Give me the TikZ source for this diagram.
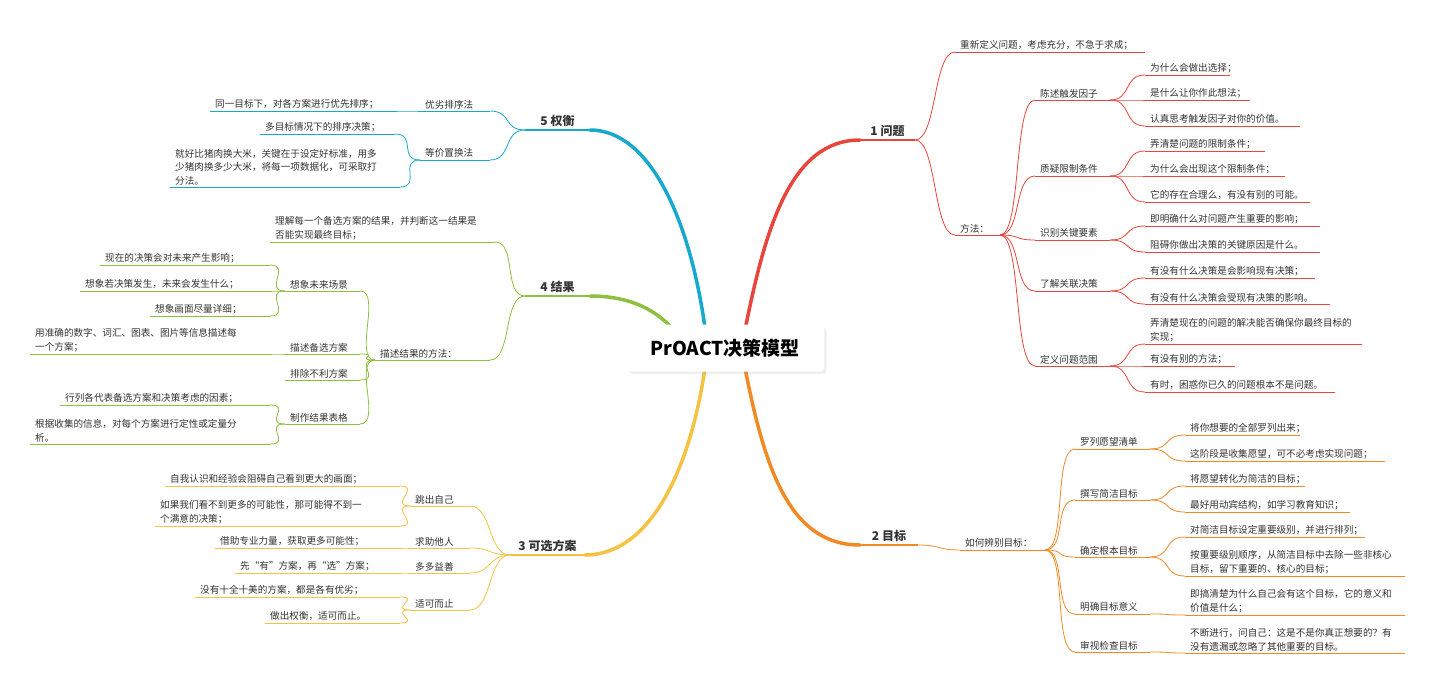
\documentclass[tikz,border=0pt]{standalone}
\usepackage{fontspec}
\setmainfont{Noto Sans CJK SC}
\usetikzlibrary{shadows}
\definecolor{c1}{HTML}{E8453C}
\definecolor{c2}{HTML}{F08A24}
\definecolor{c3}{HTML}{F5C244}
\definecolor{c4}{HTML}{8DC03F}
\definecolor{c5}{HTML}{17A8CE}
\definecolor{tx}{HTML}{333333}
\tikzset{leaf/.style={anchor=south west,inner sep=2pt,xshift=3pt,text=tx,align=left,font=\fontsize{9.6}{13.5}\selectfont},
mainlbl/.style={anchor=south,inner sep=3pt,text=tx,font=\fontsize{12}{14}\selectfont\bfseries},
trunk/.style={line width=3.5pt,line cap=round}}
\newcommand\lf[6]{\coordinate (#2-l) at (#3,#5); \coordinate (#2-r) at (#4,#5);
 \draw[#1,line width=0.8pt] (#2-l) -- (#2-r);
 \node[leaf] (#2) at (#3,#5) {#6};}
\newcommand\mn[6]{\coordinate (#2-l) at (#3,#5); \coordinate (#2-r) at (#4,#5);
 \draw[#1,line width=1.2pt] (#2-l) -- (#2-r);
 \node[mainlbl] (#2) at ({(#3+#4)/2},#5) {#6};}
\newcommand\cn[3]{\draw[#1,line width=0.8pt] (#2-r) .. controls +(22,0) and +(-22,0) .. (#3-l);}
\newcommand\cl[3]{\draw[#1,line width=0.8pt] (#2-l) .. controls +(-22,0) and +(22,0) .. (#3-r);}
\begin{document}
\begin{tikzpicture}[x=1pt,y=-1pt]
\fill[white] (0,0) rectangle (1440,690);
\useasboundingbox (0,0) rectangle (1440,690);
% trunks
\draw[c1,trunk] (745,330) .. controls (765,230) and (790,140) .. (860,140);
\draw[c2,trunk] (745,368) .. controls (765,470) and (790,545) .. (860,545);
\draw[c3,trunk] (705,368) .. controls (690,470) and (650,555) .. (585,555);
\draw[c4,trunk] (680,338) .. controls (660,310) and (630,296) .. (590,296);
\draw[c5,trunk] (705,328) .. controls (690,220) and (650,130) .. (590,130);
\node[fill=white,rounded corners=4pt,minimum width=198pt,minimum height=47pt,drop shadow={opacity=0.12},text=black,font=\fontsize{19}{22}\selectfont\bfseries] (center) at (725,348) {PrOACT决策模型};
% branch 1
\mn{c1}{t1}{860}{915}{140}{1 问题}
\lf{c1}{r0}{955}{1145}{52}{重新定义问题，考虑充分，不急于求成；}
\lf{c1}{r1}{955}{1000}{235}{方法：}
\cn{c1}{t1}{r0}\cn{c1}{t1}{r1}
\lf{c1}{a}{1035}{1110}{100}{陈述触发因子}
\lf{c1}{a1}{1145}{1230}{75}{为什么会做出选择；}
\lf{c1}{a2}{1145}{1250}{100}{是什么让你作此想法；}
\lf{c1}{a3}{1145}{1300}{126}{认真思考触发因子对你的价值。}
\lf{c1}{b}{1035}{1110}{176}{质疑限制条件}
\lf{c1}{b1}{1145}{1265}{151}{弄清楚问题的限制条件；}
\lf{c1}{b2}{1145}{1285}{176}{为什么会出现这个限制条件；}
\lf{c1}{b3}{1145}{1310}{202}{它的存在合理么，有没有别的可能。}
\lf{c1}{c}{1035}{1110}{240}{识别关键要素}
\lf{c1}{cc1}{1145}{1320}{226}{即明确什么对问题产生重要的影响；}
\lf{c1}{cc2}{1145}{1320}{252}{阻碍你做出决策的关键原因是什么。}
\lf{c1}{d}{1035}{1110}{291}{了解关联决策}
\lf{c1}{d1}{1145}{1315}{278}{有没有什么决策是会影响现有决策；}
\lf{c1}{d2}{1145}{1330}{304}{有没有什么决策会受现有决策的影响。}
\lf{c1}{e}{1035}{1110}{366}{定义问题范围}
\lf{c1}{e1}{1145}{1362}{344}{弄清楚现在的问题的解决能否确保你最终目标的\\实现；}
\lf{c1}{e2}{1145}{1235}{366}{有没有别的方法；}
\lf{c1}{e3}{1145}{1335}{392}{有时，困惑你已久的问题根本不是问题。}
\cn{c1}{r1}{a}\cn{c1}{r1}{b}\cn{c1}{r1}{c}\cn{c1}{r1}{d}\cn{c1}{r1}{e}
\cn{c1}{a}{a1}\cn{c1}{a}{a2}\cn{c1}{a}{a3}
\cn{c1}{b}{b1}\cn{c1}{b}{b2}\cn{c1}{b}{b3}
\cn{c1}{c}{cc1}\cn{c1}{c}{cc2}
\cn{c1}{d}{d1}\cn{c1}{d}{d2}
\cn{c1}{e}{e1}\cn{c1}{e}{e2}\cn{c1}{e}{e3}
% branch 2
\mn{c2}{t2}{860}{918}{545}{2 目标}
\lf{c2}{o0}{960}{1045}{550}{如何辨别目标：}
\cn{c2}{t2}{o0}
\lf{c2}{f}{1075}{1150}{449}{罗列愿望清单}
\lf{c2}{f1}{1185}{1300}{435}{将你想要的全部罗列出来；}
\lf{c2}{f2}{1185}{1385}{461}{这阶段是收集愿望，可不必考虑实现问题；}
\lf{c2}{g}{1075}{1150}{500}{撰写简洁目标}
\lf{c2}{g1}{1185}{1305}{486}{将愿望转化为简洁的目标；}
\lf{c2}{g2}{1185}{1350}{512}{最好用动宾结构，如学习教育知识；}
\lf{c2}{h}{1075}{1150}{557}{确定根本目标}
\lf{c2}{h1}{1185}{1365}{537}{对简洁目标设定重要级别，并进行排列；}
\lf{c2}{h2}{1185}{1405}{576}{按重要级别顺序，从简洁目标中去除一些非核心\\目标，留下重要的、核心的目标；}
\lf{c2}{i}{1075}{1150}{614}{明确目标意义}
\lf{c2}{i1}{1185}{1405}{615}{即搞清楚为什么自己会有这个目标，它的意义和\\价值是什么；}
\lf{c2}{j}{1075}{1150}{652}{审视检查目标}
\lf{c2}{j1}{1185}{1405}{653}{不断进行，问自己：这是不是你真正想要的？有\\没有遗漏或忽略了其他重要的目标。}
\cn{c2}{o0}{f}\cn{c2}{o0}{g}\cn{c2}{o0}{h}\cn{c2}{o0}{i}\cn{c2}{o0}{j}
\cn{c2}{f}{f1}\cn{c2}{f}{f2}\cn{c2}{g}{g1}\cn{c2}{g}{g2}
\cn{c2}{h}{h1}\cn{c2}{h}{h2}\cn{c2}{i}{i1}\cn{c2}{j}{j1}
% branch 3
\mn{c3}{t3}{510}{585}{555}{3 可选方案}
\lf{c3}{k}{410}{470}{506}{跳出自己}
\lf{c3}{k1}{165}{400}{486}{自我认识和经验会阻碍自己看到更大的画面；}
\lf{c3}{k2}{155}{400}{526}{如果我们看不到更多的可能性，那可能得不到一\\个满意的决策；}
\lf{c3}{l}{410}{470}{548}{求助他人}
\lf{c3}{l1}{215}{400}{548}{借助专业力量，获取更多可能性；}
\lf{c3}{m}{410}{470}{573}{多多益善}
\lf{c3}{m1}{235}{400}{573}{先“有”方案，再“选”方案；}
\lf{c3}{n}{410}{470}{610}{适可而止}
\lf{c3}{n1}{195}{400}{597}{没有十全十美的方案，都是各有优劣；}
\lf{c3}{n2}{265}{400}{623}{做出权衡，适可而止。}
\cl{c3}{t3}{k}\cl{c3}{t3}{l}\cl{c3}{t3}{m}\cl{c3}{t3}{n}
\cl{c3}{k}{k1}\cl{c3}{k}{k2}\cl{c3}{l}{l1}\cl{c3}{m}{m1}\cl{c3}{n}{n1}\cl{c3}{n}{n2}
% branch 4
\mn{c4}{t4}{525}{590}{296}{4 结果}
\lf{c4}{p0}{270}{495}{242}{理解每一个备选方案的结果，并判断这一结果是\\否能实现最终目标；}
\lf{c4}{p}{375}{490}{360}{描述结果的方法：}
\cl{c4}{t4}{p0}\cl{c4}{t4}{p}
\lf{c4}{q}{285}{360}{291}{想象未来场景}
\lf{c4}{q1}{100}{270}{265}{现在的决策会对未来产生影响；}
\lf{c4}{q2}{80}{270}{291}{想象若决策发生，未来会发生什么；}
\lf{c4}{q3}{150}{270}{316}{想象画面尽量详细；}
\lf{c4}{s}{285}{360}{354}{描述备选方案}
\lf{c4}{s1}{30}{270}{354}{用准确的数字、词汇、图表、图片等信息描述每\\一个方案；}
\lf{c4}{u}{285}{360}{380}{排除不利方案}
\lf{c4}{v}{285}{360}{424}{制作结果表格}
\lf{c4}{v1}{60}{270}{405}{行列各代表备选方案和决策考虑的因素；}
\lf{c4}{v2}{30}{270}{444}{根据收集的信息，对每个方案进行定性或定量分\\析。}
\cl{c4}{p}{q}\cl{c4}{p}{s}\cl{c4}{p}{u}\cl{c4}{p}{v}
\cl{c4}{q}{q1}\cl{c4}{q}{q2}\cl{c4}{q}{q3}\cl{c4}{s}{s1}\cl{c4}{v}{v1}\cl{c4}{v}{v2}
% branch 5
\mn{c5}{t5}{525}{590}{130}{5 权衡}
\lf{c5}{w}{420}{490}{111}{优劣排序法}
\lf{c5}{w1}{210}{395}{111}{同一目标下，对各方案进行优先排序；}
\lf{c5}{x}{420}{490}{160}{等价置换法}
\lf{c5}{x1}{260}{395}{134}{多目标情况下的排序决策；}
\lf{c5}{x2}{170}{400}{187}{就好比猪肉换大米，关键在于设定好标准，用多\\少猪肉换多少大米，将每一项数据化，可采取打\\分法。}
\cl{c5}{t5}{w}\cl{c5}{t5}{x}
\cl{c5}{w}{w1}\cl{c5}{x}{x1}\cl{c5}{x}{x2}
\end{tikzpicture}
\end{document}
